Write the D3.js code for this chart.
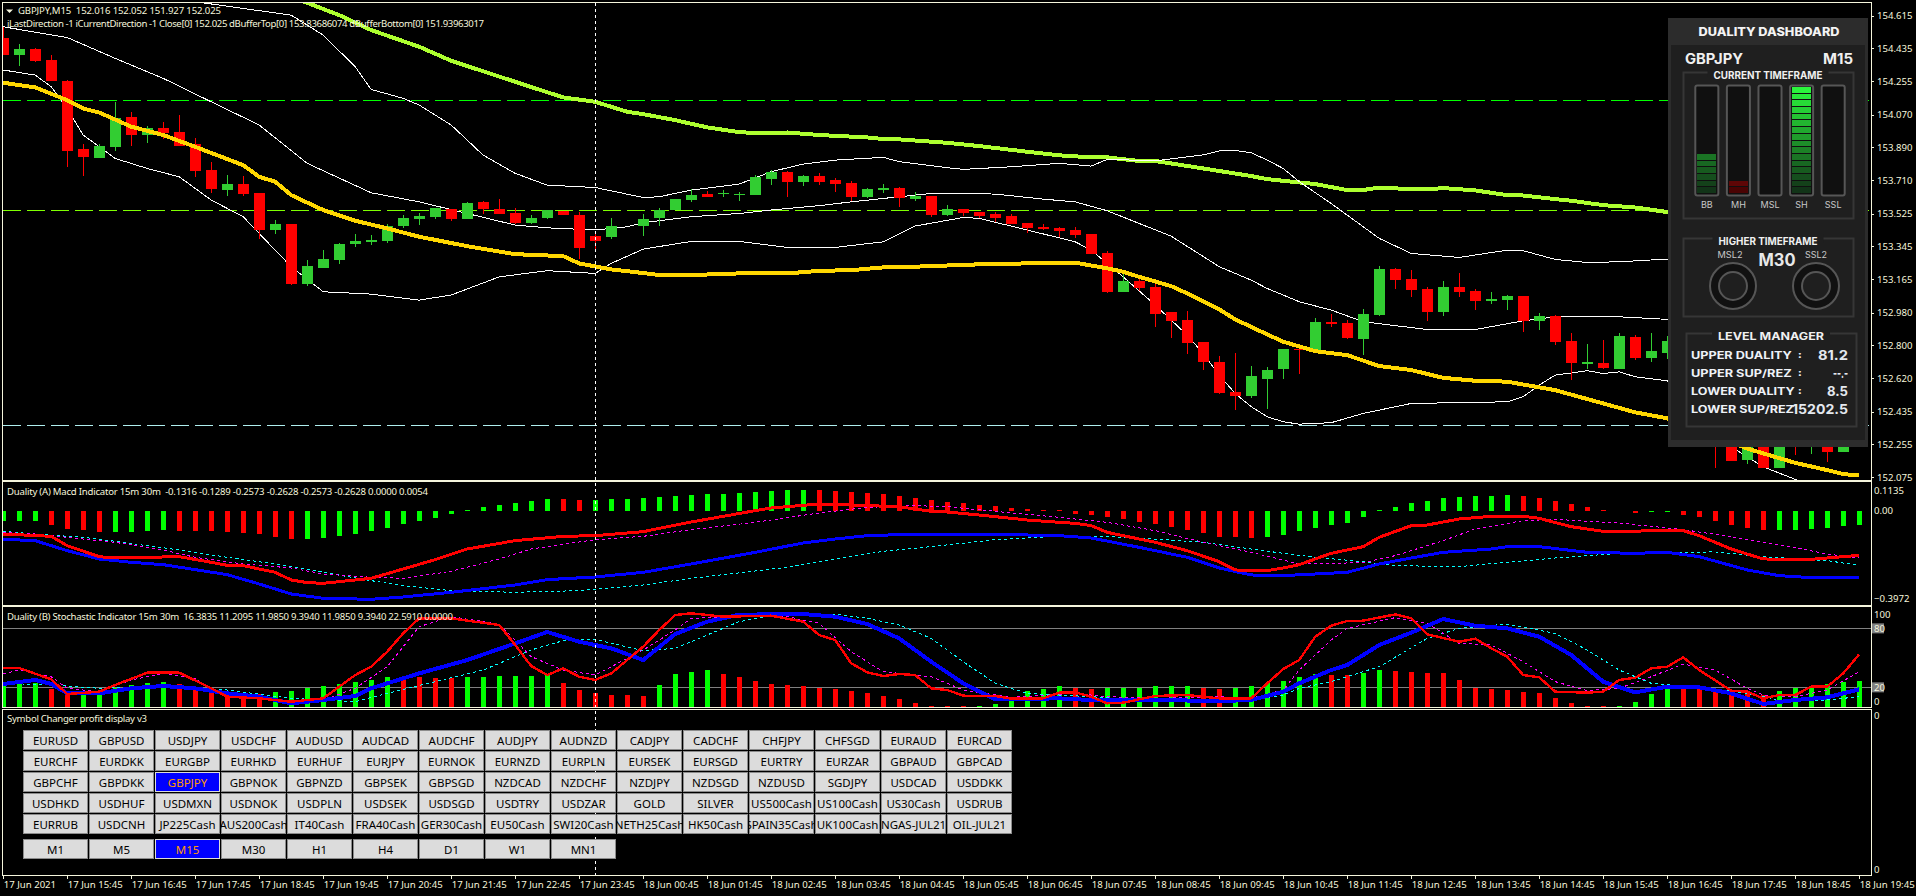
<!DOCTYPE html>
<html>
<head>
<meta charset="utf-8">
<title>GBPJPY,M15</title>
<script src="https://cdn.jsdelivr.net/npm/d3@7"></script>
<style>
    html, body { margin: 0; background: #000; overflow: hidden; }
    svg { display: block; }
    text { font-family: "Noto Sans", sans-serif; white-space: pre; }
    .mt text { font-size: 9.6px; fill: #f5f5dc; }
    .axis line { stroke: #f5f5dc; shape-rendering: crispEdges; }
    .axis path { display: none; }
    .axis text { font-size: 9.6px; fill: #f5f5dc; }
</style>
</head>
<body>
<svg id="chart" width="1916" height="896"></svg>
<script>
const opens = [
    154.494,154.398,154.429,154.371,154.255,153.881,153.831,153.892,154.057,153.958,
    153.996,153.974,153.908,153.765,153.655,153.688,153.638,153.435,153.467,153.137,
    153.225,153.269,153.357,153.368,153.374,153.457,153.495,153.506,153.550,153.495,
    153.589,153.550,153.528,153.473,153.501,153.539,153.517,153.401,153.396,null,
    153.457,153.501,153.545,153.600,153.633,153.633,153.631,153.627,153.715,153.754,
    153.699,153.732,153.710,153.693,153.616,153.655,153.666,153.605,153.622,153.517,
    153.550,153.534,153.523,153.512,153.473,153.451,153.446,153.435,153.412,153.308,
    153.093,153.154,153.121,152.983,152.939,152.818,152.708,152.542,152.520,152.614,
    152.669,152.779,152.768,152.928,152.922,152.834,152.966,153.220,153.165,153.110,
    152.983,153.121,153.099,153.044,153.049,153.071,152.933,152.961,152.823,152.697,
    152.702,152.669,152.845,152.730,152.757,152.823,152.760,152.600,152.300,152.168,
    152.290,152.124,152.300,152.270,152.300,152.212,152.016
]
const highs = [
    154.554,154.459,154.435,154.398,154.260,153.908,153.908,154.139,154.084,154.007,
    154.029,154.068,153.941,153.809,153.737,153.732,153.638,153.490,153.467,153.269,
    153.324,153.363,153.412,153.407,153.467,153.517,153.528,153.556,153.550,153.589,
    153.594,153.605,153.556,153.517,153.545,153.539,153.534,153.429,153.501,null,
    153.523,153.556,153.605,153.660,153.649,153.655,153.644,153.737,153.765,153.759,
    153.737,153.748,153.721,153.704,153.666,153.688,153.671,153.644,153.622,153.572,
    153.550,153.534,153.534,153.523,153.473,153.467,153.451,153.451,153.412,153.319,
    153.192,153.165,153.143,152.983,152.988,152.818,152.741,152.757,152.686,152.680,
    152.779,152.779,152.950,152.972,152.939,152.999,153.236,153.225,153.214,153.121,
    153.154,153.198,153.110,153.093,153.077,153.071,152.977,152.966,152.867,152.807,
    152.829,152.867,152.856,152.867,152.851,152.840,152.780,152.630,152.330,152.310,
    152.320,152.300,152.330,152.310,152.320,152.300,152.052
]
const lows = [
    154.398,154.338,154.361,154.255,153.781,153.732,153.831,153.870,153.897,153.914,
    153.936,153.897,153.726,153.638,153.622,153.622,153.385,153.412,153.132,153.126,
    153.225,153.247,153.341,153.352,153.363,153.446,153.462,153.495,153.484,153.495,
    153.523,153.523,153.467,153.467,153.495,153.517,153.275,153.324,153.385,null,
    153.401,153.457,153.545,153.589,153.616,153.616,153.594,153.627,153.682,153.616,
    153.677,153.682,153.644,153.594,153.611,153.638,153.561,153.594,153.506,153.512,
    153.512,153.501,153.479,153.467,153.418,153.435,153.396,153.390,153.302,153.088,
    153.093,153.099,152.900,152.840,152.752,152.664,152.531,152.443,152.509,152.449,
    152.614,152.642,152.768,152.900,152.834,152.746,152.961,153.110,153.066,152.933,
    152.961,153.066,152.994,153.027,152.994,152.873,152.884,152.801,152.609,152.669,
    152.669,152.669,152.719,152.708,152.724,152.700,152.550,152.124,152.162,152.146,
    152.124,152.124,152.196,152.201,152.157,152.212,151.927
]
const closes = [
    154.398,154.429,154.365,154.255,153.870,153.836,153.897,154.051,153.958,153.996,
    153.969,153.897,153.759,153.660,153.688,153.633,153.435,153.467,153.137,153.236,
    153.275,153.357,153.374,153.379,153.457,153.501,153.512,153.556,153.495,153.583,
    153.550,153.523,153.473,153.501,153.545,153.517,153.335,153.374,153.457,null,
    153.495,153.545,153.605,153.627,153.616,153.638,153.635,153.726,153.754,153.699,
    153.732,153.699,153.688,153.616,153.660,153.666,153.611,153.622,153.517,153.550,
    153.528,153.512,153.501,153.467,153.446,153.440,153.429,153.407,153.302,153.093,
    153.154,153.115,152.972,152.933,152.812,152.708,152.537,152.520,152.631,152.664,
    152.779,152.772,152.928,152.917,152.840,152.972,153.220,153.159,153.104,152.983,
    153.121,153.093,153.044,153.055,153.071,152.933,152.961,152.818,152.702,152.708,
    152.675,152.851,152.730,152.768,152.823,152.760,152.600,152.300,152.162,152.290,
    152.124,152.280,152.270,152.290,152.212,152.280,152.025
]

const goldBars = [0,2,4,5,6,8,10,12,15,16,17,18,20,22,24,26,29,32,35,36,38,40,41,43,46,49,51,53,55,57,61,65,67,69,70,71,73,74,76,77,79,80,82,84,86,88,90,92,94,97,100,102,104,109,110,112,114,115,116]
const goldVals = [154.246,154.220,154.150,154.104,154.082,154.004,153.958,153.893,153.792,153.728,153.701,153.627,153.545,153.486,153.444,153.398,153.346,153.302,153.291,153.251,153.218,153.198,153.187,153.187,153.196,153.196,153.210,153.214,153.229,153.233,153.246,153.253,153.255,153.224,153.205,153.177,153.126,153.086,152.998,152.943,152.860,152.820,152.768,152.746,152.686,152.664,152.621,152.605,152.600,152.553,152.480,152.431,152.398,152.232,152.205,152.153,152.113,152.091,152.083]

const limeBars = [17,19,21,23,26,28,32,35,37,39,40,42,44,46,47,48,49,51,54,55,56,59,61,64,66,68,69,71,72,75,78,79,82,84,85,86,87,89,90,92,94,95,97,98,100,102,104,106]
const limeVals = [154.747,154.686,154.618,154.536,154.444,154.367,154.251,154.165,154.141,154.086,154.073,154.040,154.000,153.974,153.969,153.967,153.972,153.958,153.945,153.936,153.934,153.915,153.897,153.866,153.846,153.835,153.835,153.815,153.815,153.774,153.732,153.715,153.688,153.655,153.655,153.669,153.664,153.658,153.666,153.653,153.627,153.625,153.605,153.596,153.572,153.559,153.534,153.500]

const bandTopBars = [12,15,18,20,22,23,25,26,28,30,32,34,37,40,41,43,46,48,50,52,55,56,59,60,63,66,68,69,72,75,76,77,78,79,80,81,83,85,86,88,91,94,95,97,99,101,104,106]
const bandTopVals = [154.692,154.655,154.618,154.508,154.334,154.209,154.160,154.123,154.013,153.847,153.747,153.682,153.669,153.614,153.618,153.655,153.688,153.756,153.798,153.820,153.835,153.811,153.778,153.769,153.783,153.802,153.787,153.824,153.816,153.849,153.870,153.873,153.860,153.820,153.774,153.701,153.581,153.453,153.389,153.306,153.284,153.324,153.321,153.273,153.256,153.260,153.275,153.280]

const bandMidBars = [0,4,7,10,13,16,19,23,26,29,32,34,37,39,40,43,46,48,51,53,56,58,62,65,67,69,71,73,76,78,79,80,81,83,85,89,92,95,97,101,104,106]
const bandMidVals = [154.554,154.495,154.380,154.270,154.141,154.013,153.802,153.640,153.590,153.526,153.462,153.447,153.435,153.453,153.475,153.508,153.526,153.545,153.569,153.590,153.618,153.636,153.633,153.605,153.590,153.541,153.471,153.401,153.233,153.159,153.113,153.077,153.040,152.994,152.930,152.887,152.887,152.935,152.957,152.957,152.943,152.930]

const bandLowBars = [0,2,3,4,5,7,9,11,13,15,17,18,20,23,26,28,31,34,37,38,40,43,46,49,52,55,57,60,61,64,67,68,70,72,73,74,75,76,77,78,79,80,81,83,85,88,94,95,96,97,99,100,101,102,104,107,109,110,112,114]
const bandLowVals = [154.316,154.288,154.224,154.104,153.958,153.829,153.774,153.728,153.600,153.508,153.324,153.233,153.095,153.082,153.049,153.077,153.177,153.211,153.196,153.251,153.330,153.372,153.372,153.339,153.339,153.370,153.457,153.504,153.499,153.435,153.370,153.324,153.177,153.022,152.939,152.856,152.755,152.636,152.535,152.462,152.407,152.379,152.366,152.374,152.425,152.480,152.489,152.517,152.581,152.636,152.660,152.645,152.654,152.627,152.605,152.297,152.186,152.131,152.062,152.000]

const levelPrices = [154.149, 153.543, 152.364]
const crossBar = 37

const priceTicks = [154.615,154.435,154.255,154.070,153.890,153.710,153.525,153.345,153.165,152.980,152.800,152.620,152.435,152.255,152.075]
const macdTicks = [0.1135, 0, -0.3972]
const stochTicks = [100, 80, 20, 0]
const timeLabels = ['17 Jun 2021','17 Jun 15:45','17 Jun 16:45','17 Jun 17:45','17 Jun 18:45','17 Jun 19:45','17 Jun 20:45','17 Jun 21:45','17 Jun 22:45','17 Jun 23:45',
    '18 Jun 00:45','18 Jun 01:45','18 Jun 02:45','18 Jun 03:45','18 Jun 04:45','18 Jun 05:45','18 Jun 06:45','18 Jun 07:45','18 Jun 08:45','18 Jun 09:45',
    '18 Jun 10:45','18 Jun 11:45','18 Jun 12:45','18 Jun 13:45','18 Jun 14:45','18 Jun 15:45','18 Jun 16:45','18 Jun 17:45','18 Jun 18:45','18 Jun 19:45']

const macdHist = [
    -0.0425,-0.0425,-0.0425,-0.0596,-0.0766,-0.0808,-0.0893,-0.0893,-0.0893,-0.0851,-0.0808,-0.0851,-0.0851,-0.0851,-0.0893,-0.0936,-0.0978,-0.1106,-0.1191,-0.1191,
    -0.1149,-0.1064,-0.0978,-0.0851,-0.0723,-0.0553,-0.0425,-0.0298,-0.0128,0.0014,0.0170,0.0255,0.0340,0.0425,0.0510,0.0510,0.0468,0.0468,0.0510,0.0510,
    0.0553,0.0596,0.0638,0.0681,0.0723,0.0723,0.0766,0.0808,0.0851,0.0893,0.0893,0.0893,0.0851,0.0808,0.0766,0.0723,0.0638,0.0553,0.0468,0.0383,
    0.0340,0.0255,0.0213,0.0128,0.0085,0.0043,0.0028,-0.0128,-0.0170,-0.0255,-0.0340,-0.0468,-0.0553,-0.0681,-0.0808,-0.0936,-0.1106,-0.1106,-0.1149,-0.1106,
    -0.1021,-0.0851,-0.0723,-0.0596,-0.0510,-0.0255,0.0028,0.0170,0.0340,0.0425,0.0553,0.0596,0.0638,0.0638,0.0681,0.0638,0.0553,0.0425,0.0298,0.0170,
    0.0028,-0.0014,-0.0085,-0.0071,-0.0071,-0.0170,-0.0255,-0.0425,-0.0596,-0.0723,-0.0808,-0.0808,-0.0808,-0.0766,-0.0723,-0.0638,-0.0596
]
const macdHistDir = 'gggrrrrggggrrrrrrrrgggggggggggggggg' + 'rr' + 'gggggggggggggg' + 'rrrrrrrrrrrrrrrrrrrrrrrrrrrr' + 'gggggggggggggggg' + 'rrrrrrrr' + 'gg' + 'rrrrrr' + 'gggggg'

const macdRedBars = [0,3,4,6,7,9,11,13,14,15,17,18,19,20,23,25,27,29,32,35,37,40,43,45,47,48,51,56,58,59,61,64,66,67,68,69,72,74,76,77,79,80,81,83,85,86,88,89,91,93,95,96,98,100,105,106,108,110,113,116]
const macdRedVals = [-0.0993,-0.1092,-0.1489,-0.1957,-0.2014,-0.1985,-0.1957,-0.2198,-0.2326,-0.2340,-0.2623,-0.2949,-0.3063,-0.3091,-0.2879,-0.2482,-0.2084,-0.1631,-0.1276,-0.1092,-0.1064,-0.0893,-0.0482,-0.0241,0,0.0113,0.0284,0.0170,-0.0028,-0.0057,-0.0184,-0.0397,-0.0496,-0.0539,-0.0638,-0.0922,-0.1347,-0.1702,-0.2170,-0.2524,-0.2552,-0.2439,-0.2297,-0.1815,-0.1531,-0.1134,-0.0638,-0.0610,-0.0355,-0.0241,-0.0241,-0.0326,-0.0681,-0.0879,-0.0851,-0.1064,-0.1631,-0.2056,-0.2070,-0.1900]
const macdBlueBars = [0,2,4,6,8,10,12,14,16,18,20,23,25,28,32,34,37,40,43,47,50,52,54,56,63,66,68,71,74,76,78,80,82,84,86,88,90,93,94,96,99,102,104,106,109,111,113,116]
const macdBlueVals = [-0.1219,-0.1276,-0.1702,-0.2056,-0.2198,-0.2297,-0.2510,-0.2723,-0.3120,-0.3545,-0.3729,-0.3772,-0.3673,-0.3474,-0.3162,-0.2935,-0.2822,-0.2623,-0.2269,-0.1773,-0.1375,-0.1205,-0.1064,-0.1021,-0.1021,-0.1064,-0.1163,-0.1560,-0.1985,-0.2439,-0.2737,-0.2765,-0.2694,-0.2623,-0.2269,-0.2014,-0.1773,-0.1631,-0.1531,-0.1531,-0.1773,-0.1815,-0.1773,-0.1957,-0.2524,-0.2765,-0.2850,-0.2850]
const macdPinkBars = [0,2,5,7,10,12,15,18,20,23,25,28,31,33,37,40,43,47,51,54,57,59,62,66,69,72,75,78,80,81,85,87,90,92,95,97,101,105,108,111,114,116]
const macdPinkVals = [-0.0922,-0.0993,-0.1205,-0.1347,-0.1673,-0.1985,-0.2269,-0.2439,-0.2694,-0.2836,-0.2879,-0.2581,-0.2056,-0.1631,-0.1234,-0.1092,-0.0808,-0.0496,-0.0099,0.0142,0.0213,0.0170,-0.0028,-0.0284,-0.0496,-0.0851,-0.1347,-0.1773,-0.2099,-0.2269,-0.2212,-0.1914,-0.1276,-0.0780,-0.0425,-0.0369,-0.0525,-0.0808,-0.1106,-0.1446,-0.1843,-0.2014]
const macdCyanBars = [0,2,5,7,11,14,17,20,23,25,28,32,36,40,43,49,55,58,62,65,68,71,75,78,80,82,85,87,91,94,97,102,107,110,114,116]
const macdCyanVals = [-0.0879,-0.0993,-0.1134,-0.1305,-0.1673,-0.1985,-0.2269,-0.2623,-0.2978,-0.3191,-0.3403,-0.3474,-0.3403,-0.3162,-0.2879,-0.2411,-0.1730,-0.1531,-0.1234,-0.1120,-0.1078,-0.1163,-0.1347,-0.1631,-0.1815,-0.1985,-0.2170,-0.2340,-0.2382,-0.2198,-0.2014,-0.1773,-0.1758,-0.1957,-0.2127,-0.2326]

const stochHist = [
    23.4,23.4,24.4,18.3,13.2,14.2,15.3,19.3,22.4,24.4,25.4,23.4,19.3,18.3,15.3,14.2,13.2,15.3,16.3,19.3,
    21.4,23.4,25.4,27.5,30.5,30.5,30.5,29.5,29.5,30.5,30.5,31.5,31.5,31.5,32.5,24.4,17.3,14.2,12.2,12.2,
    11.2,22.4,33.6,35.6,37.6,33.6,30.5,26.4,23.4,22.4,21.4,19.3,18.3,16.3,14.2,11.2,8.1,4.1,1.0,1.0,
    1.0,1.0,3.1,10.2,16.3,18.3,21.4,19.3,18.3,19.3,19.3,19.3,21.4,21.4,21.4,19.3,18.3,19.3,21.4,24.4,
    26.4,30.5,33.6,32.5,32.5,34.6,37.6,36.6,35.6,34.6,34.6,27.5,19.3,18.3,17.3,15.3,14.2,9.2,4.1,1.0,
    1.0,1.0,5.1,13.2,21.4,21.4,19.3,18.3,17.3,14.2,12.2,16.3,19.3,21.4,23.4,25.4,26.4
]
const stochHistDir = 'gggrrggggggrrrrrrggggggggrrrrggggggrrrrr' + 'rggggrrrrrrrrrrrrrrrrggggggrrggggggrrggg' + 'gggrrggrrrrrrrrrrrrrrggggrrrrrrgggggg'

const stochRedBars = [0,1,3,4,6,7,9,11,13,14,16,18,20,22,23,24,25,26,28,31,32,33,34,35,36,37,38,40,41,42,43,45,48,50,51,52,53,54,55,56,57,58,59,60,62,63,65,66,67,68,69,70,72,74,76,78,79,80,81,82,83,84,85,87,88,89,91,92,93,94,95,96,97,99,100,101,102,103,104,105,106,108,109,110,111,112,113,114,115,116]
const stochRedVals = [39.7,39.7,28.1,13.2,15.6,22.4,34.9,34.9,19.0,10.5,8.8,5.4,8.8,32.5,41.0,56.3,74.9,90.2,90.2,83.4,63.1,41.7,32.5,39.3,30.8,27.5,34.2,61.4,78.3,93.6,95.3,91.9,92.9,86.8,73.2,68.1,44.4,35.3,31.5,33.6,32.5,19.0,17.3,11.5,11.2,8.5,8.8,14.6,14.9,10.5,3.7,4.4,11.2,12.2,8.8,8.8,24.1,38.6,47.8,71.5,82.7,87.5,87.8,94.2,90.2,73.9,66.4,69.5,59.7,51.2,32.5,30.2,15.6,14.6,15.6,27.5,29.8,39.3,41.0,50.5,37.6,16.6,15.6,8.8,12.2,12.2,20.7,20.7,34.2,53.6]
const stochBlueBars = [0,2,3,4,6,8,10,12,14,16,18,20,22,23,26,29,32,34,36,38,40,42,44,46,50,52,54,56,58,60,62,66,68,72,76,78,80,81,83,84,86,88,90,92,94,96,98,100,102,104,106,108,110,112,114,116]
const stochBlueVals = [23.4,27.5,23.4,13.9,13.9,19.0,21.4,19.0,13.9,10.5,3.7,7.1,11.2,19.0,34.2,47.8,64.7,76.3,66.4,59.7,47.8,74.2,86.8,93.9,94.6,91.9,84.4,69.8,46.1,24.1,7.8,8.8,7.1,7.1,6.1,7.1,15.6,24.1,37.6,42.7,63.1,75.6,89.5,82.7,80.0,71.5,52.9,25.8,14.9,20.7,20.0,13.9,3.1,7.1,9.8,18.0]
const stochPinkBars = [0,1,3,4,6,8,10,12,13,16,18,20,22,24,26,28,31,33,35,37,40,42,43,46,49,51,53,55,58,60,63,67,69,72,76,78,80,81,83,84,87,89,91,93,95,97,99,101,103,105,107,109,110,112,114,116]
const stochPinkVals = [33.6,37.6,30.8,19.0,15.6,27.5,34.2,29.2,17.3,10.5,5.4,7.1,19.0,41.0,81.7,91.9,84.4,51.2,37.6,32.5,58.0,78.3,90.2,91.9,91.9,85.1,56.3,35.9,30.8,17.3,9.8,13.9,10.5,8.8,10.5,8.8,17.3,37.6,68.1,80.0,90.9,85.1,64.7,63.1,46.1,25.8,16.6,19.0,30.8,43.7,37.6,19.0,12.2,10.5,17.3,35.9]
const stochCyanBars = [0,3,6,10,14,18,22,24,27,30,33,35,37,40,42,46,48,52,54,56,58,60,62,64,68,71,76,78,80,81,83,86,89,91,94,97,99,101,103,106,109,111,114,116]
const stochCyanVals = [24.1,22.4,19.0,20.7,17.3,8.8,5.4,13.9,25.8,37.6,58.0,67.5,68.8,57.3,59.7,86.8,92.9,94.6,90.2,83.4,69.8,46.1,24.1,13.9,10.5,7.1,6.4,7.1,12.2,19.0,25.8,41.0,69.8,80.0,84.4,74.9,58.0,37.6,24.1,20.0,13.9,7.1,7.1,10.5]

const symbolRows = [
    ['EURUSD','GBPUSD','USDJPY','USDCHF','AUDUSD','AUDCAD','AUDCHF','AUDJPY','AUDNZD','CADJPY','CADCHF','CHFJPY','CHFSGD','EURAUD','EURCAD'],
    ['EURCHF','EURDKK','EURGBP','EURHKD','EURHUF','EURJPY','EURNOK','EURNZD','EURPLN','EURSEK','EURSGD','EURTRY','EURZAR','GBPAUD','GBPCAD'],
    ['GBPCHF','GBPDKK','GBPJPY','GBPNOK','GBPNZD','GBPSEK','GBPSGD','NZDCAD','NZDCHF','NZDJPY','NZDSGD','NZDUSD','SGDJPY','USDCAD','USDDKK'],
    ['USDHKD','USDHUF','USDMXN','USDNOK','USDPLN','USDSEK','USDSGD','USDTRY','USDZAR','GOLD','SILVER','US500Cash','US100Cash','US30Cash','USDRUB'],
    ['EURRUB','USDCNH','JP225Cash','AUS200Cash','IT40Cash','FRA40Cash','GER30Cash','EU50Cash','SWI20Cash','NETH25Cash','HK50Cash','SPAIN35Cash','UK100Cash','NGAS-JUL21','OIL-JUL21']
]
const timeframes = ['M1','M5','M15','M30','H1','H4','D1','W1','MN1']

const meterNames = ['BB','MH','MSL','SH','SSL']
const meterLevels = [6, 2, 0, 16, 0]
const levelNames = ['UPPER DUALITY  :','UPPER SUP/REZ  :','LOWER DUALITY :','LOWER SUP/REZ']
const levelValues = ['81.2','--.-','8.5','15202.5']
const levelValueWidths = [30, 15, 21, 56]

const svg = d3.select('#chart')
const frameColor = '#f5f5dc'
const rightEdge = 1871

const x = d3.scaleLinear().domain([0, 116]).range([3.2, 1859.2])
const yPrice = d3.scaleLinear().domain([154.615, 152.075]).range([15.7, 477])
const yMacd = d3.scaleLinear().domain([0.1135, -0.3972]).range([484, 604])
const yStoch = d3.scaleLinear().domain([100, 0]).range([608.7, 707])
const ySymbol = d3.scaleLinear().domain([1, 0]).range([710, 875])

const panes = [
    { id: 'main', top: 3, bottom: 480 },
    { id: 'macd', top: 482, bottom: 605 },
    { id: 'stoch', top: 607, bottom: 707 },
    { id: 'symbol', top: 710, bottom: 875 }
]

const defs = svg.append('defs')
panes.forEach(p => {
    defs.append('clipPath').attr('id', 'clip-' + p.id)
        .append('rect')
        .attr('x', 3).attr('y', p.top)
        .attr('width', rightEdge - 3).attr('height', p.bottom - p.top)
})

function pane(id) {
    return svg.append('g').attr('clip-path', `url(#clip-${id})`)
}

function drawLine(g, bars, vals, y, color, width, dash) {
    const line = d3.line()
        .x(d => x(d[0]))
        .y(d => y(d[1]))
    g.append('path')
        .datum(d3.zip(bars, vals))
        .attr('d', line)
        .attr('fill', 'none')
        .attr('stroke', color)
        .attr('stroke-width', width)
        .attr('stroke-dasharray', dash || null)
        .attr('stroke-linejoin', 'round')
        .attr('shape-rendering', 'crispEdges')
}

function drawHist(g, vals, dirs, y, base) {
    g.selectAll('.bar')
        .data(vals)
        .enter()
        .append('rect')
        .attr('class', 'bar')
        .attr('x', (d, i) => Math.round(x(i) - 2.5))
        .attr('width', 5)
        .attr('y', d => Math.min(y(d), y(base)))
        .attr('height', d => Math.abs(y(d) - y(base)))
        .attr('fill', (d, i) => dirs[i] == 'g' ? '#00ff00' : '#ff0000')
        .attr('shape-rendering', 'crispEdges')
}

// main pane
const mainG = pane('main')

levelPrices.forEach((p, i) => {
    mainG.append('line')
        .attr('x1', 3).attr('x2', rightEdge)
        .attr('y1', Math.round(yPrice(p)) + 0.5).attr('y2', Math.round(yPrice(p)) + 0.5)
        .attr('stroke', ['#00ff00', '#7fff00', '#afeeee'][i])
        .attr('stroke-dasharray', '18 6')
        .attr('shape-rendering', 'crispEdges')
})

drawLine(mainG, limeBars, limeVals, yPrice, '#adff2f', 4)
drawLine(mainG, bandTopBars, bandTopVals, yPrice, '#ffffff', 1)
drawLine(mainG, bandMidBars, bandMidVals, yPrice, '#ffffff', 1)
drawLine(mainG, bandLowBars, bandLowVals, yPrice, '#ffffff', 1)

const candleData = d3.range(opens.length).filter(i => opens[i] !== null)
const candleColor = i => closes[i] >= opens[i] ? '#32cd32' : '#ff0000'

mainG.selectAll('.wick')
    .data(candleData)
    .enter()
    .append('rect')
    .attr('class', 'wick')
    .attr('x', i => Math.round(x(i)))
    .attr('width', 1)
    .attr('y', i => yPrice(highs[i]))
    .attr('height', i => yPrice(lows[i]) - yPrice(highs[i]))
    .attr('fill', candleColor)
    .attr('shape-rendering', 'crispEdges')

mainG.selectAll('.body')
    .data(candleData)
    .enter()
    .append('rect')
    .attr('class', 'body')
    .attr('x', i => Math.round(x(i)) - 5)
    .attr('width', 11)
    .attr('y', i => yPrice(Math.max(opens[i], closes[i])))
    .attr('height', i => Math.max(1, Math.abs(yPrice(opens[i]) - yPrice(closes[i]))))
    .attr('fill', candleColor)
    .attr('shape-rendering', 'crispEdges')

drawLine(mainG, goldBars, goldVals, yPrice, '#ffd700', 4)

// macd pane
const macdG = pane('macd')
drawHist(macdG, macdHist, macdHistDir, yMacd, 0)
drawLine(macdG, macdCyanBars, macdCyanVals, yMacd, '#00ffff', 1, '3 3')
drawLine(macdG, macdPinkBars, macdPinkVals, yMacd, '#ff00ff', 1, '3 3')
drawLine(macdG, macdBlueBars, macdBlueVals, yMacd, '#0000ff', 3)
drawLine(macdG, macdRedBars, macdRedVals, yMacd, '#ff0000', 3)

// stochastic pane
const stochG = pane('stoch')
;[80, 20].forEach(v => {
    stochG.append('line')
        .attr('x1', 3).attr('x2', rightEdge)
        .attr('y1', Math.round(yStoch(v)) + 0.5).attr('y2', Math.round(yStoch(v)) + 0.5)
        .attr('stroke', '#808080')
        .attr('shape-rendering', 'crispEdges')
})
drawHist(stochG, stochHist, stochHistDir, yStoch, 0)
drawLine(stochG, stochCyanBars, stochCyanVals, yStoch, '#00ffff', 1, '3 3')
drawLine(stochG, stochPinkBars, stochPinkVals, yStoch, '#ff00ff', 1, '3 3')
drawLine(stochG, stochBlueBars, stochBlueVals, yStoch, '#0000ff', 4)
drawLine(stochG, stochRedBars, stochRedVals, yStoch, '#ff0000', 2.4)

// crosshair
svg.append('line')
    .attr('x1', Math.round(x(crossBar)) + 0.5).attr('x2', Math.round(x(crossBar)) + 0.5)
    .attr('y1', 3).attr('y2', 875)
    .attr('stroke', '#ffffff')
    .attr('stroke-dasharray', '3 3')
    .attr('shape-rendering', 'crispEdges')

// pane frames
panes.forEach(p => {
    svg.append('rect')
        .attr('x', 2.5).attr('y', p.top - 0.5)
        .attr('width', rightEdge - 2.5).attr('height', p.bottom - p.top + 0.5)
        .attr('fill', 'none')
        .attr('stroke', frameColor)
        .attr('shape-rendering', 'crispEdges')
})

// axes
svg.append('g')
    .attr('class', 'axis')
    .attr('transform', `translate(${rightEdge},0)`)
    .call(d3.axisRight(yPrice).tickValues(priceTicks).tickFormat(d3.format('.3f')).tickSize(3).tickSizeOuter(0))

const macdAxis = svg.append('g')
    .attr('class', 'axis')
    .attr('transform', `translate(${rightEdge},0)`)
    .call(d3.axisRight(yMacd).tickValues(macdTicks).tickFormat(d => d == 0 ? '0.00' : d3.format('.4f')(d)).tickSize(0).tickPadding(3))
macdAxis.selectAll('text').attr('y', d => d == 0.1135 ? 6 : d < 0 ? -6 : 0)

const stochAxis = svg.append('g')
    .attr('class', 'axis')
    .attr('transform', `translate(${rightEdge},0)`)
stochAxis.selectAll('.lvl')
    .data([80, 20])
    .enter()
    .append('rect')
    .attr('class', 'lvl')
    .attr('x', 1).attr('width', 12)
    .attr('y', d => yStoch(d) - 5).attr('height', 10)
    .attr('fill', '#808080')
stochAxis.call(d3.axisRight(yStoch).tickValues(stochTicks).tickSize(0).tickPadding(3))
stochAxis.selectAll('.tick text').attr('y', d => d == 100 ? 6 : d == 0 ? -6 : 0)

const symbolAxis = svg.append('g')
    .attr('class', 'axis')
    .attr('transform', `translate(${rightEdge},0)`)
    .call(d3.axisRight(ySymbol).tickValues([1, 0]).tickFormat(() => '0').tickSize(0).tickPadding(3))
symbolAxis.selectAll('.tick text').attr('y', d => d == 1 ? 5 : -6)

const timeAxis = svg.append('g')
    .attr('class', 'axis')
    .attr('transform', 'translate(0,875)')
    .call(d3.axisBottom(x).tickValues(d3.range(0, 117, 4)).tickFormat(i => timeLabels[i / 4]).tickSize(4).tickPadding(2))
timeAxis.selectAll('text').attr('text-anchor', 'start')

// pane captions
const captions = [
    ['GBPJPY,M15  152.016 152.052 151.927 152.025', 18, 14, 203],
    ['iLastDirection -1 iCurrentDirection -1 Close[0] 152.025 dBufferTop[0] 153.83686074 dBufferBottom[0] 151.93963017', 7, 27, 477],
    ['Duality (A) Macd Indicator 15m 30m  -0.1316 -0.1289 -0.2573 -0.2628 -0.2573 -0.2628 0.0000 0.0054', 7, 495, 421],
    ['Duality (B) Stochastic Indicator 15m 30m  16.3835 11.2095 11.9850 9.3940 11.9850 9.3940 22.5910 0.0000', 7, 620, 446],
    ['Symbol Changer profit display v3', 7, 722, 140]
]
svg.append('g').attr('class', 'mt')
    .selectAll('text')
    .data(captions)
    .enter()
    .append('text')
    .attr('x', d => d[1])
    .attr('y', d => d[2])
    .attr('textLength', d => d[3])
    .text(d => d[0])

svg.append('path').attr('d', 'M6 9.5h7l-3.5 3.5z').attr('fill', '#f5f5dc')

// symbol buttons
function button(label, col, top, active) {
    const left = 23 + col * 66
    const b = svg.append('svg')
        .attr('x', left).attr('y', top)
        .attr('width', 65).attr('height', 20)
    b.append('rect')
        .attr('x', 0.5).attr('y', 0.5)
        .attr('width', 64).attr('height', 19)
        .attr('fill', active ? '#0000ff' : '#dcdcdc')
        .attr('stroke', active ? '#dcdcdc' : '#8c8c8c')
        .attr('shape-rendering', 'crispEdges')
    b.append('text')
        .attr('x', 32.5).attr('y', 14.5)
        .attr('text-anchor', 'middle')
        .attr('font-size', 11.5)
        .attr('fill', active ? '#ff9900' : '#000000')
        .text(label)
}
symbolRows.forEach((row, r) => {
    row.forEach((s, c) => button(s, c, 730 + r * 21, s == 'GBPJPY'))
})
timeframes.forEach((t, c) => button(t, c, 839, t == 'M15'))

// dashboard
const dash = svg.append('g')

function dashText(str, px, py, size, anchor, len, weight, fill) {
    const t = dash.append('text')
        .attr('x', px).attr('y', py)
        .attr('text-anchor', anchor)
        .style('font-family', 'Inter, sans-serif')
        .attr('font-size', size)
        .attr('font-weight', weight)
        .attr('fill', fill)
        .text(str)
    if (len) t.attr('textLength', len).attr('lengthAdjust', 'spacingAndGlyphs')
    return t
}

function dashBox(x0, y0, x1, y1, title, titleLen) {
    dash.append('rect')
        .attr('x', x0 + 0.5).attr('y', y0 + 0.5)
        .attr('width', x1 - x0).attr('height', y1 - y0)
        .attr('fill', '#1f1f1f')
        .attr('stroke', '#363636')
        .attr('stroke-width', 2)
    const cx = (x0 + x1) / 2
    dash.append('rect')
        .attr('x', cx - titleLen / 2 - 6).attr('y', y0 - 4)
        .attr('width', titleLen + 12).attr('height', 9)
        .attr('fill', '#1f1f1f')
    dashText(title, cx, y0 + 6.5, 10, 'middle', titleLen, 700, '#f0f0f0')
}

dash.append('rect').attr('x', 1668).attr('y', 18).attr('width', 200).attr('height', 429).attr('fill', '#2c2c2c')
dash.append('rect').attr('x', 1671).attr('y', 45).attr('width', 194).attr('height', 395).attr('fill', '#1f1f1f')

dashText('DUALITY DASHBOARD', 1769, 36, 11.5, 'middle', 141, 800, '#f4f4f4')
dashText('GBPJPY', 1685, 64, 14, 'start', 58, 700, '#f0f0f0')
dashText('M15', 1853, 64, 14, 'end', 30, 700, '#f0f0f0')

dashBox(1683, 72, 1853, 218, 'CURRENT TIMEFRAME', 109)

const meterX = d3.scaleBand().domain(meterNames).range([1695.3, 1844.7]).paddingInner(0.27)
const segY = d3.scaleLinear().domain([0, 16]).range([194, 87])
const greenShade = d3.scaleLinear().domain([0, 15]).range(['#123418', '#2af53c'])
const redShade = d3.scaleLinear().domain([0, 1]).range(['#4a0303', '#5e0606'])

meterNames.forEach((name, m) => {
    const mx = meterX(name)
    const mw = meterX.bandwidth()
    dash.append('rect')
        .attr('x', mx).attr('y', 85.5)
        .attr('width', mw).attr('height', 110)
        .attr('rx', 2)
        .attr('fill', '#101010')
        .attr('stroke', '#565656')
        .attr('stroke-width', 2)
    dash.selectAll('.seg-' + name)
        .data(d3.range(meterLevels[m]))
        .enter()
        .append('rect')
        .attr('class', 'seg-' + name)
        .attr('x', mx + 2).attr('width', mw - 4)
        .attr('y', k => segY(k + 1))
        .attr('height', k => segY(k) - segY(k + 1) - 1)
        .attr('fill', k => name == 'MH' ? redShade(k) : greenShade(k))
        .attr('shape-rendering', 'crispEdges')
    dashText(name, mx + mw / 2, 208, 9, 'middle', null, 400, '#c8c8c8')
})

dashBox(1683, 238, 1853, 316, 'HIGHER TIMEFRAME', 99)
dashText('MSL2', 1730, 258, 8.5, 'middle', 25, 400, '#c8c8c8')
dashText('SSL2', 1816, 258, 8.5, 'middle', 22, 400, '#c8c8c8')
dashText('M30', 1777, 266, 17, 'middle', 37, 700, '#e8e8e8')
;[1733, 1816].forEach(cx => {
    dash.append('circle').attr('cx', cx).attr('cy', 286).attr('r', 23).attr('fill', '#111111').attr('stroke', '#565656').attr('stroke-width', 2)
    dash.append('circle').attr('cx', cx).attr('cy', 286).attr('r', 14).attr('fill', '#1f1f1f').attr('stroke', '#565656').attr('stroke-width', 2)
})

dashBox(1686, 333, 1856, 426, 'LEVEL MANAGER', 106)
levelNames.forEach((name, i) => {
    dashText(name, 1691, 359 + i * 18, 10, 'start', i == 3 ? 103 : 111, 700, '#eef2f8')
    dashText(levelValues[i], 1848, 360 + i * 18, 13.5, 'end', levelValueWidths[i], 700, '#e4e8ee')
})
</script>
</body>
</html>
